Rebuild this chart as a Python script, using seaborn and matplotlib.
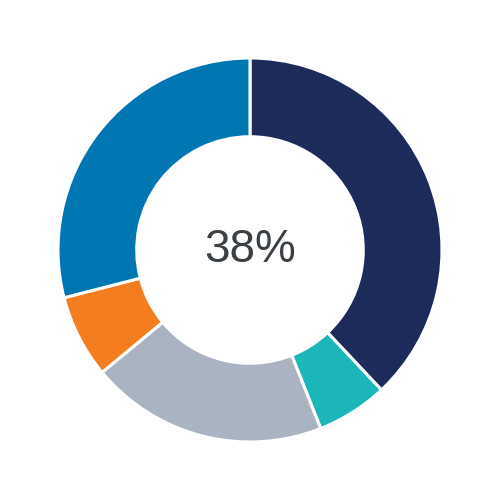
import seaborn as sns
import matplotlib.pyplot as plt

# slice shares, clockwise from 12 o'clock
labels = ["Navy", "Teal", "Grey", "Orange", "Blue"]
shares = [38, 6, 20, 7, 29]
colors = ["#1c2b5a", "#1db6b8", "#a9b3c1", "#f47d20", "#0076b3"]
center_label = "38%"

sns.set_style("white")
plt.rcParams["font.family"] = ["Liberation Sans", "DejaVu Sans"]

fig = plt.figure(figsize=(5, 5), dpi=100)
ax = fig.add_axes([0, 0, 1, 1])
ax.pie(shares, colors=colors, startangle=90, counterclock=False,
       radius=1.0,
       wedgeprops=dict(width=0.41, edgecolor="white", linewidth=2.2))
ax.text(0, 0, center_label, ha="center", va="center", fontsize=33,
        color="#3b4045")
lim = 250 / 192
ax.set_xlim(-lim, lim)
ax.set_ylim(-lim, lim)
ax.set_aspect("equal")
ax.axis("off")

fig.savefig("out.png", dpi=100, facecolor="white")
